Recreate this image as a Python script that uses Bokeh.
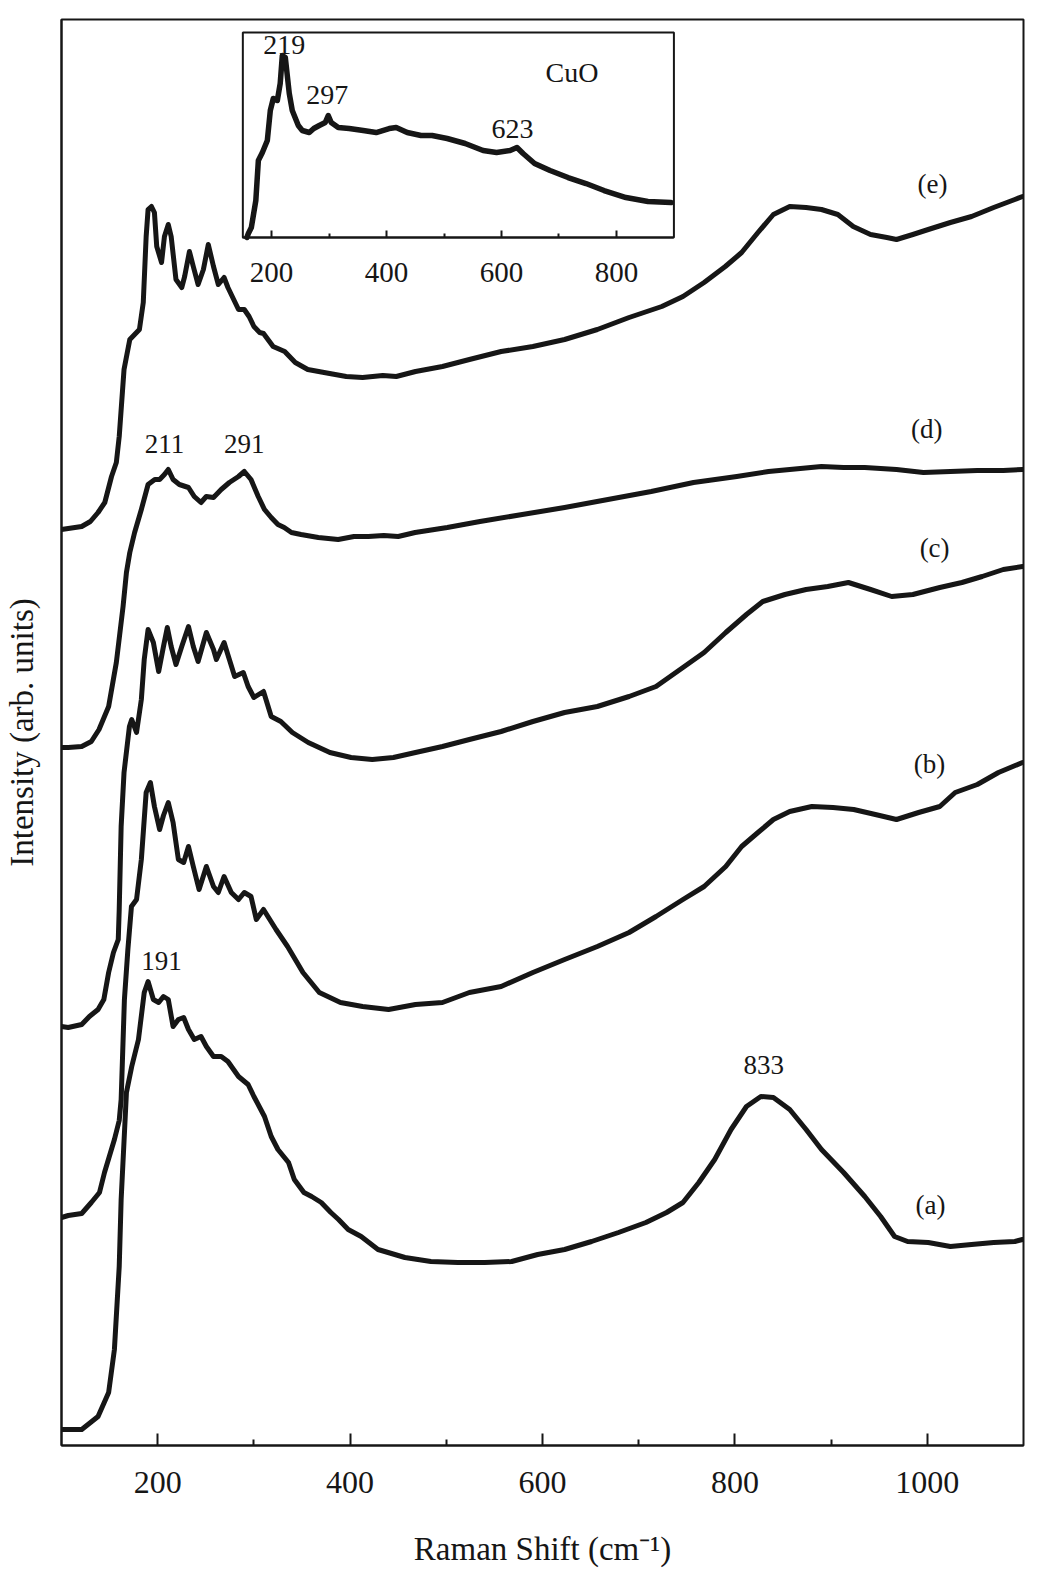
from bokeh.plotting import figure
from bokeh.models import Range1d, LinearAxis, FixedTicker
from bokeh.core.properties import value
from bokeh.embed import file_html
from bokeh.resources import INLINE

# ---------------- data (Raman shift in cm-1, intensity in arb. units) ----------------
a_x = [100, 121, 138, 149, 155, 160, 162, 167.5, 173, 180, 186, 190, 195.5, 201, 206, 211, 216, 221.5, 227, 232,
       238, 245, 250.6, 258, 266, 273, 284, 294, 300, 311, 318, 325, 336, 342, 352, 360, 370, 380, 388, 398,
       411.5, 429, 457, 484, 512, 540, 568, 595, 623, 651, 679, 707.5, 729, 746, 762.5, 779, 796, 812, 827, 840,
       857, 874, 890, 913, 935, 951.5, 966, 979.5, 1001, 1024, 1046, 1069, 1091, 1099]
a_y = [16, 16, 29, 53, 96, 179, 246, 353, 379, 406, 453, 464, 446, 443, 449, 446, 419, 426, 428, 416,
       406, 409, 399, 389, 389, 384, 369, 361, 349, 329, 309, 296, 283, 266, 253, 249, 243, 233, 226, 216,
       209, 196, 188, 184, 183, 183, 184, 191, 196, 204, 213, 223, 233, 243, 263, 286, 316, 339, 349, 348,
       336, 316, 296, 273, 249, 229, 209, 204, 203, 199, 201, 203, 204, 206]

b_x = [100, 107, 121, 131, 139.5, 144.7, 150, 155, 160, 162, 165.4, 169, 172.7, 178, 183, 188, 192.4, 196.6, 202, 206,
       211, 216, 221.5, 227, 232, 237, 243, 250.6, 258, 263, 269, 276.5, 284, 290, 297, 302.5, 310, 323, 335, 351,
       368, 390, 413, 440, 468, 496, 524, 557, 590, 623, 657, 690, 718, 746, 768, 790.5, 807, 824, 840, 857,
       880, 902, 923.5, 946, 968, 991, 1013, 1029, 1052, 1074, 1099]
b_y = [228, 230, 232, 243, 253, 273, 290, 306, 325, 346, 446, 496, 539, 546, 586, 653, 663, 639, 616, 630,
       643, 623, 586, 583, 599, 579, 556, 579, 559, 553, 569, 553, 546, 553, 549, 526, 536, 516, 499, 473,
       453, 443, 439, 436, 441, 443, 453, 459, 473, 486, 499, 513, 529, 546, 559, 579, 599, 613, 626, 634,
       639, 638, 636, 631, 626, 633, 639, 653, 661, 673, 683]

c_x = [100, 107, 121, 129, 138, 144, 149, 154, 159, 160, 162, 165, 170.6, 173, 178, 183, 186, 190, 195.5, 201,
       206, 210, 214, 219, 225, 232, 237, 242, 250.6, 258, 261, 269, 274.5, 280, 289, 294, 300, 310, 318, 328,
       340, 356.5, 379, 401, 423, 445, 468, 496, 524, 557, 590, 623, 657, 690, 718, 746, 768, 790.5, 812, 829,
       852, 874, 896.5, 918, 941, 963, 985, 1013, 1036, 1057, 1079, 1099]
c_y = [419, 418, 421, 429, 436, 446, 473, 493, 506, 536, 619, 673, 719, 726, 713, 746, 786, 816, 803, 774,
       799, 818, 799, 781, 799, 819, 799, 784, 813, 796, 786, 803, 786, 769, 773, 759, 748, 754, 729, 724,
       713, 703, 693, 688, 686, 688, 693, 699, 706, 714, 724, 733, 739, 749, 759, 778, 793, 813, 831, 844,
       851, 856, 859, 863, 856, 849, 851, 858, 863, 869, 876, 879]

d_x = [100, 107, 121, 131, 139, 149, 157, 164, 167.5, 171, 176, 183, 190, 197, 202, 207, 211, 216, 222.5, 232,
       238, 245, 250.5, 258, 266, 274.5, 284, 290, 297, 304.5, 311, 318, 325, 331.5, 339, 349, 367, 387.6, 404, 419,
       435, 450, 467.6, 501, 535, 579, 623, 668, 713, 757, 802, 835, 868, 890, 913, 935, 968, 996, 1024, 1052,
       1079, 1099]
d_y = [698, 698, 699, 704, 716, 739, 783, 839, 873, 893, 913, 936, 961, 966, 966, 971, 976, 966, 961, 958,
       949, 943, 949, 948, 956, 963, 969, 974, 966, 949, 936, 928, 921, 918, 913, 911, 908, 906, 909, 909,
       910, 909, 913, 918, 924, 931, 938, 946, 954, 963, 969, 974, 977, 979, 978, 978, 976, 973, 974, 975,
       975, 976]

e_x = [100, 121, 130, 138, 145, 152, 157, 160, 165, 171, 176, 181, 185, 188, 190, 193.5, 196.6, 199, 204, 207,
       211, 214, 219, 225, 228, 233, 237, 242, 247.5, 252.6, 258, 263, 269, 273, 279, 284, 290, 295, 300, 306,
       310, 320, 332, 343, 356, 373, 396, 413, 434, 448, 468, 496, 524, 557, 590, 623, 657, 690, 724, 746,
       768, 790, 807, 824, 840, 857, 874, 890, 907, 923, 941, 958, 968, 985, 1001, 1024, 1046, 1069, 1091, 1099]
e_y = [916, 919, 924, 933, 943, 969, 983, 1009, 1076, 1106, 1111, 1116, 1143, 1209, 1236, 1239, 1233, 1199, 1183, 1209,
       1221, 1209, 1166, 1158, 1169, 1194, 1179, 1161, 1176, 1201, 1179, 1161, 1168, 1158, 1146, 1136, 1136, 1129, 1119, 1113,
       1112, 1099, 1094, 1083, 1076, 1073, 1069, 1068, 1070, 1069, 1074, 1079, 1086, 1094, 1099, 1106, 1116, 1128, 1139, 1149,
       1163, 1179, 1193, 1213, 1231, 1239, 1238, 1236, 1231, 1219, 1211, 1208, 1206, 1211, 1216, 1223, 1229, 1238, 1246, 1249]

# inset: CuO reference spectrum
cuo_x = [157, 159.6, 164.8, 172.6, 177, 184, 192.6, 197.8, 203, 210, 215, 218.7, 223.9, 230.8, 236, 246.5, 253.4,
         265.6, 273.4, 283, 293.4, 298.6, 303.8, 316, 335, 359.4, 382, 404.6, 416.8, 436, 460, 479.4, 505.5,
         536.8, 568, 591.5, 615, 627, 637.6, 657.6, 684.5, 715.8, 747, 778.4, 816.6, 854.8, 894.8]
cuo_y = [0, 4, 10, 37, 77, 85, 97, 127, 139, 137, 154, 182, 180, 144, 127, 112, 107, 105, 109, 112, 115, 122, 115,
         110, 109, 107, 105, 109, 110, 105, 102, 102, 99, 94, 87, 85, 87, 90, 84, 74, 67, 60, 54, 47, 40, 36, 35]

# tick positions
main_ticks = [200, 400, 600, 800, 1000]
main_minor = [300, 500, 700, 900]
inset_ticks = [200, 400, 600, 800]
inset_minor = [300, 500, 700]
inset_xlim = (150, 900)
inset_ylim = (0, 205)

# annotations
peak_text = ["191", "211", "291", "833"]
peak_tx = [204, 207, 290, 830]
peak_ty = [485, 1002, 1002, 381]
curve_text = ["(a)", "(b)", "(c)", "(d)", "(e)"]
curve_tx = [1003.4, 1002.4, 1007.6, 999.3, 1005.5]
curve_ty = [241, 682, 898, 1017, 1262]
inset_text = ["219", "297", "623", "CuO"]
inset_tx = [222, 297, 619, 722.7]
inset_ty = [192, 142, 109, 165]

# ---------------- styling / layout ----------------
FONT = "Liberation Serif"
INK = "#161616"
INSET_BOX = (0.1885, 0.6366, 0.8471, 0.9909)  # inset frame as fractions of main frame: left, right, bottom, top


def frame_range(lo, hi, f0, f1):
    span = (hi - lo) / (f1 - f0)
    start = lo - f0 * span
    return Range1d(start, start + span)


p = figure(width=1053, height=1576, x_range=Range1d(100, 1100), y_range=Range1d(0, 1426),
           output_backend="svg", toolbar_location=None,
           min_border_left=60, min_border_right=30, min_border_top=19, min_border_bottom=131,
           background_fill_color="white", border_fill_color="white")
p.grid.visible = False
p.outline_line_color = INK
p.outline_line_width = 2

xa = p.xaxis[0]
xa.ticker = FixedTicker(ticks=main_ticks, minor_ticks=main_minor)
xa.major_tick_in = 12
xa.major_tick_out = 0
xa.minor_tick_in = 6
xa.minor_tick_out = 0
xa.major_tick_line_width = 2
xa.minor_tick_line_width = 2
xa.axis_line_width = 2
xa.axis_line_color = INK
xa.major_tick_line_color = INK
xa.minor_tick_line_color = INK
xa.major_label_text_font = FONT
xa.major_label_text_font_size = "32px"
xa.major_label_text_color = INK
xa.major_label_standoff = 26
xa.axis_label = "Raman Shift (cm\u207b\u00b9)"
xa.axis_label_text_font = FONT
xa.axis_label_text_font_size = "33px"
xa.axis_label_text_font_style = "normal"
xa.axis_label_text_color = INK
xa.axis_label_standoff = 35

ya = p.yaxis[0]
ya.ticker = FixedTicker(ticks=[])
ya.major_tick_in = 0
ya.major_tick_out = 0
ya.minor_tick_in = 0
ya.minor_tick_out = 0
ya.major_label_text_font_size = "0px"
ya.axis_line_width = 2
ya.axis_line_color = INK
ya.axis_label = "Intensity (arb. units)"
ya.axis_label_text_font = FONT
ya.axis_label_text_font_size = "33px"
ya.axis_label_text_font_style = "normal"
ya.axis_label_text_color = INK
ya.axis_label_standoff = 22

# main spectra
for xs, ys in [(a_x, a_y), (b_x, b_y), (c_x, c_y), (d_x, d_y), (e_x, e_y)]:
    p.line(xs, ys, line_color=INK, line_width=5, line_join="round", line_cap="round")

p.text(x=peak_tx, y=peak_ty, text=peak_text, text_font=value(FONT), text_font_size=value("27px"),
       text_align="center", text_baseline="middle", text_color=INK)
p.text(x=curve_tx, y=curve_ty, text=curve_text, text_font=value(FONT), text_font_size=value("27px"),
       text_align="center", text_baseline="middle", text_color=INK)

# ---------------- inset ----------------
p.extra_x_ranges = {"inset": frame_range(inset_xlim[0], inset_xlim[1], INSET_BOX[0], INSET_BOX[1])}
p.extra_y_ranges = {"inset": frame_range(inset_ylim[0], inset_ylim[1], INSET_BOX[2], INSET_BOX[3])}

p.quad(left=[inset_xlim[0]], right=[inset_xlim[1]], bottom=[inset_ylim[0]], top=[inset_ylim[1]],
       x_range_name="inset", y_range_name="inset", fill_color="white", line_color=INK, line_width=2)
p.line(cuo_x, cuo_y, x_range_name="inset", y_range_name="inset", line_color=INK, line_width=5.5,
       line_join="round", line_cap="round")
p.text(x=inset_tx, y=inset_ty, text=inset_text, x_range_name="inset", y_range_name="inset",
       text_font=value(FONT), text_font_size=value("28px"), text_align="center", text_baseline="middle",
       text_color=INK)

ia = LinearAxis(x_range_name="inset", y_range_name="inset", fixed_location=inset_ylim[0], bounds=inset_xlim,
                ticker=FixedTicker(ticks=inset_ticks, minor_ticks=inset_minor),
                major_tick_in=7, major_tick_out=0, minor_tick_in=4, minor_tick_out=0,
                major_tick_line_width=2, minor_tick_line_width=2, axis_line_width=2,
                axis_line_color=INK, major_tick_line_color=INK, minor_tick_line_color=INK,
                major_label_text_font=FONT, major_label_text_font_size="29px", major_label_text_color=INK,
                major_label_standoff=25)
p.add_layout(ia, "below")

open("out.html", "w").write(file_html(p, INLINE))
